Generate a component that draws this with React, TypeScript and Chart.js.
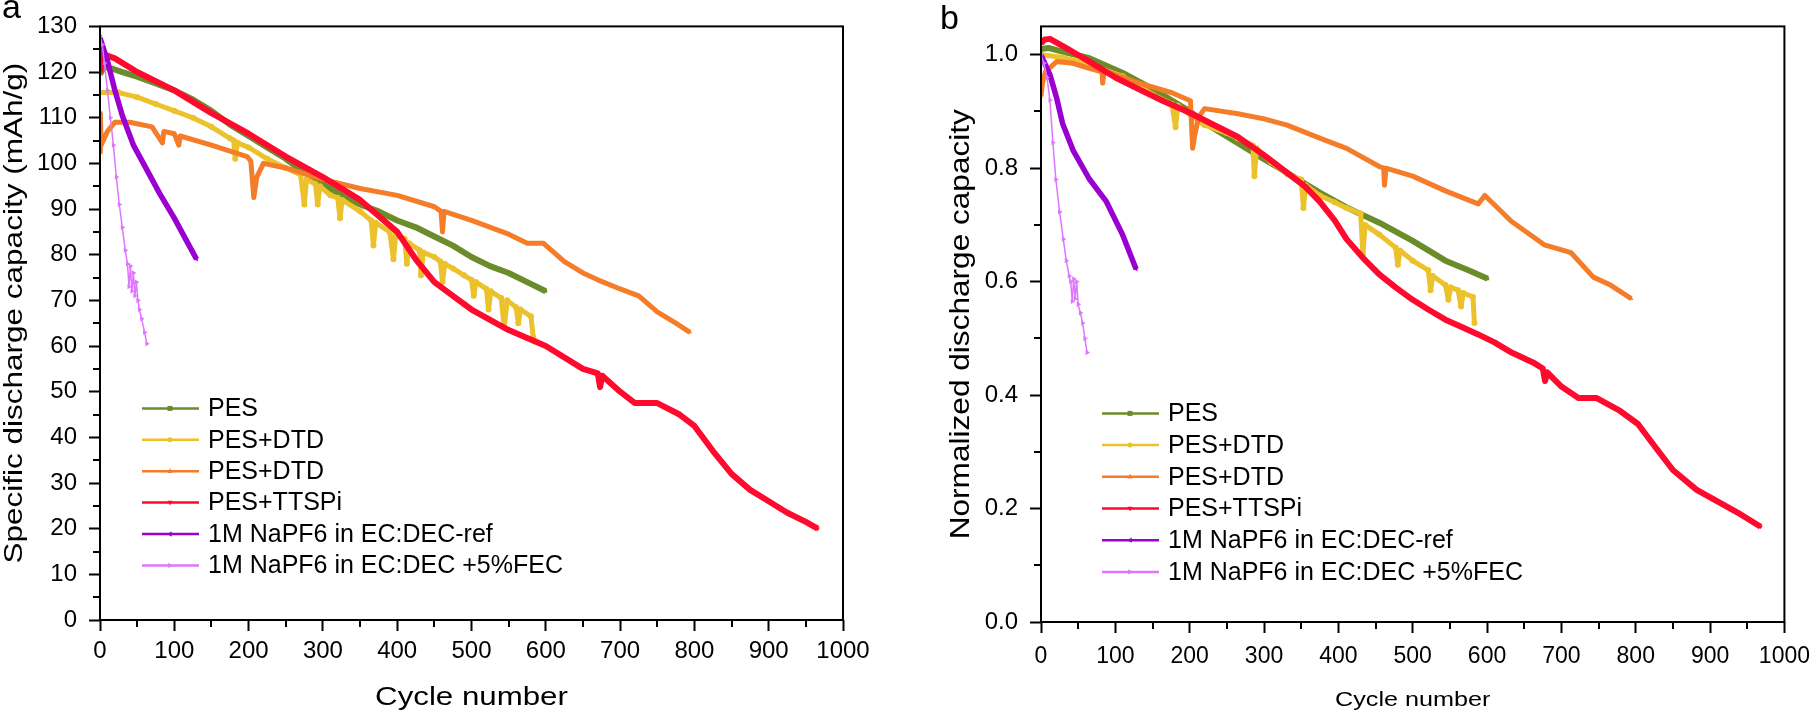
import React, { useEffect, useRef } from "react";
import { Chart, registerables } from "chart.js";
Chart.register(...registerables);

const FONT = '"Liberation Sans", Arial, Helvetica, sans-serif';
Chart.defaults.font.family = FONT;

// legend / series look
const seriesNames = ["PES", "PES+DTD", "PES+DTD", "PES+TTSPi", "1M NaPF6 in EC:DEC-ref", "1M NaPF6 in EC:DEC +5%FEC"];
const seriesColors = ["#6B8C2A", "#EBC22B", "#F57C28", "#FF0A2E", "#9A00D0", "#DE76FF"];
const markerStyles = ["rect", "circle", "triangle", "triangle", "triangle", "triangle"];
const markerRot = [0, 0, 0, 180, -90, 90];
const lineWidths = [6, 5, 5, 6, 5.5, 1.5];
const pointSizes = [2, 3, 2.5, 2.5, 2.5, 3];

// tick labels
const xTicks = [0, 100, 200, 300, 400, 500, 600, 700, 800, 900, 1000];
const yTicksA = [0, 10, 20, 30, 40, 50, 60, 70, 80, 90, 100, 110, 120, 130];
const yTicksB = [0, 0.2, 0.4, 0.6, 0.8, 1.0];

// panel a: specific discharge capacity (mAh/g)
const pesCycA = [0, 5, 12, 30, 50, 75, 100, 125, 150, 175, 200, 225, 250, 275, 300, 325, 350, 375, 400, 425, 450, 475, 500, 525, 550, 575, 600];
const pesCapA = [119.5, 121, 121, 120, 119, 117.5, 116, 114, 111.5, 108.5, 106, 103.5, 101, 98, 95.5, 93, 91, 89.5, 87.5, 86, 84, 82, 79.5, 77.5, 76, 74, 72];

const dtdYCycA = [0, 10, 25, 50, 75, 100, 125, 150, 175, 180, 182, 185, 200, 225, 250, 270, 275, 278, 290, 293, 296, 310, 320, 323, 326, 350, 365, 368, 371, 390, 395, 398, 410, 413, 416, 430, 432, 435, 450, 458, 461, 464, 475, 490, 500, 503, 506, 520, 523, 526, 540, 544, 548, 560, 563, 566, 580, 583, 585];
const dtdYCapA = [115.5, 115.5, 115.5, 114.5, 113, 111.5, 110, 108, 105.5, 105, 101, 104.5, 103.5, 101, 99, 97.5, 91, 96.5, 95.5, 91, 95, 93, 92.5, 88, 92, 89.5, 87.5, 82, 87, 85, 79, 84.5, 83.5, 78, 82.5, 81, 75.5, 80.5, 79.5, 78.5, 74, 78, 77, 75.5, 74.5, 71, 74, 72.5, 68, 72, 70.5, 64, 70, 68.5, 65, 68, 66.5, 62, 61];

const dtdOCycA = [0, 0.5, 1.5, 10, 20, 40, 70, 84, 86, 100, 106, 108, 150, 198, 203, 207, 211, 220, 250, 300, 350, 400, 450, 459, 461, 463, 500, 550, 575, 597, 625, 650, 670, 700, 725, 750, 775, 794];
const dtdOCapA = [102.5, 111, 104, 107, 109, 109, 108, 104.5, 107, 106.5, 104, 106, 104, 101.5, 100.5, 92.5, 97, 100, 99, 96.5, 94.5, 93, 90.5, 89.5, 85, 89.5, 87.5, 84.5, 82.5, 82.5, 78.5, 76, 74.5, 72.5, 71, 67.5, 65, 63];

const ttspiCycA = [0, 3, 20, 50, 100, 150, 200, 250, 300, 350, 400, 425, 450, 475, 500, 550, 600, 650, 670, 673, 676, 700, 720, 750, 780, 800, 825, 850, 875, 900, 925, 950, 966];
const ttspiCapA = [120, 124, 123, 120, 116, 111, 106.5, 101.5, 97, 92, 85, 79, 74, 71, 68, 63.5, 60, 55, 54, 51, 53.5, 50, 47.5, 47.5, 45, 42.5, 37, 32, 28.5, 26, 23.5, 21.5, 20];

const refCycA = [0, 5, 10, 20, 30, 45, 60, 80, 100, 120, 130];
const refCapA = [127.5, 125, 122.5, 116, 110.5, 104, 99.5, 93.5, 88, 82, 79];

const fecCycA = [0, 3, 6, 10, 14, 18, 22, 26, 30, 34, 37, 39, 41, 43, 45, 47, 49, 51, 53, 56, 60, 63];
const fecCapA = [128, 126, 122, 116, 110, 104, 97, 91, 86, 81, 78, 73, 77.5, 72, 76, 71, 74, 70, 68, 66, 63, 60.5];

// panel b: normalized discharge capacity
const pesCycB = [0, 10, 30, 65, 110, 150, 198, 230, 265, 300, 331, 375, 411, 455, 500, 544, 575, 601];
const pesNormB = [1.01, 1.012, 1.005, 0.994, 0.968, 0.94, 0.902, 0.872, 0.844, 0.816, 0.792, 0.757, 0.731, 0.704, 0.672, 0.637, 0.62, 0.605];

const dtdYCycB = [0, 30, 60, 110, 150, 176, 181, 184, 220, 250, 265, 285, 287, 290, 310, 331, 350, 353, 356, 375, 395, 411, 430, 433, 436, 455, 477, 480, 483, 500, 521, 524, 527, 544, 548, 551, 561, 565, 568, 581, 583];
const dtdYNormB = [1.0, 0.995, 0.985, 0.962, 0.93, 0.913, 0.872, 0.91, 0.876, 0.862, 0.853, 0.84, 0.786, 0.835, 0.81, 0.79, 0.78, 0.73, 0.77, 0.752, 0.74, 0.73, 0.72, 0.648, 0.7, 0.683, 0.66, 0.63, 0.655, 0.637, 0.62, 0.585, 0.61, 0.594, 0.568, 0.59, 0.585, 0.556, 0.58, 0.573, 0.527];

const dtdOCycB = [0, 2, 6, 21, 43, 65, 82, 83, 85, 110, 132, 176, 201, 204, 207, 212, 220, 265, 300, 331, 375, 411, 455, 461, 462, 464, 500, 544, 588, 597, 633, 677, 713, 743, 766, 794];
const dtdONormB = [0.927, 0.95, 0.97, 0.988, 0.985, 0.976, 0.97, 0.95, 0.972, 0.96, 0.95, 0.933, 0.919, 0.835, 0.86, 0.89, 0.905, 0.896, 0.887, 0.876, 0.853, 0.835, 0.803, 0.8, 0.77, 0.8, 0.786, 0.76, 0.737, 0.752, 0.706, 0.665, 0.651, 0.608, 0.594, 0.57];

const ttspiCycB = [0, 5, 12, 30, 65, 100, 132, 165, 198, 230, 265, 300, 331, 355, 375, 395, 411, 433, 455, 477, 500, 522, 544, 566, 588, 610, 633, 664, 675, 678, 681, 700, 723, 747, 779, 803, 826, 850, 882, 905, 937, 968];
const ttspiNormB = [1.02, 1.027, 1.028, 1.015, 0.988, 0.96, 0.939, 0.918, 0.899, 0.878, 0.855, 0.823, 0.792, 0.768, 0.741, 0.708, 0.675, 0.642, 0.613, 0.59, 0.568, 0.55, 0.533, 0.52, 0.507, 0.493, 0.475, 0.456, 0.447, 0.425, 0.44, 0.415, 0.395, 0.395, 0.372, 0.349, 0.309, 0.268, 0.233, 0.216, 0.193, 0.168];

const refCycB = [0, 5, 12, 21, 29, 43, 65, 88, 110, 128];
const refNormB = [1.0, 0.985, 0.965, 0.924, 0.879, 0.832, 0.781, 0.741, 0.682, 0.622];

const fecCycB = [0, 4, 8, 12, 16, 20, 25, 30, 34, 38, 40, 42, 44, 46, 48, 50, 53, 56, 59, 62];
const fecNormB = [1.0, 0.985, 0.96, 0.92, 0.845, 0.78, 0.723, 0.675, 0.637, 0.61, 0.6, 0.565, 0.605, 0.57, 0.6, 0.56, 0.545, 0.527, 0.5, 0.475];

function drawMarker(ctx, style, rot, x, y, r) {
    ctx.save()
    ctx.translate(x, y)
    ctx.rotate(rot * Math.PI / 180)
    ctx.beginPath()
    if (style === "rect") ctx.rect(-r, -r, 2 * r, 2 * r)
    else if (style === "circle") ctx.arc(0, 0, r, 0, Math.PI * 2)
    else {
        ctx.moveTo(0, -r * 1.2)
        ctx.lineTo(r * 1.05, r * 0.7)
        ctx.lineTo(-r * 1.05, r * 0.7)
        ctx.closePath()
    }
    ctx.fill()
    ctx.restore()
}

// titles in the picture are wider than plain Arial, so stretch along the text
function stretchText(ctx, text, x, y, rot, size, sx) {
    ctx.save()
    ctx.translate(x, y)
    ctx.rotate(rot)
    ctx.scale(sx, 1)
    ctx.font = `${size}px ${FONT}`
    ctx.fillStyle = "#000"
    ctx.textAlign = "center"
    ctx.textBaseline = "middle"
    ctx.fillText(text, 0, 0)
    ctx.restore()
}

const makeDecor = (p) => ({
    id: "decor",
    afterDraw(chart) {
        const { ctx, chartArea: a } = chart
        const xs = chart.scales.x, ys = chart.scales.y
        ctx.save()
        ctx.strokeStyle = "#000"
        ctx.lineWidth = 2
        ctx.strokeRect(a.left, a.top, a.right - a.left, a.bottom - a.top)

        // minor ticks
        ctx.beginPath()
        for (let v = p.minorX; v < xs.max; v += 2 * p.minorX) {
            const px = Math.round(xs.getPixelForValue(v))
            ctx.moveTo(px, a.bottom)
            ctx.lineTo(px, a.bottom + 7)
        }
        for (let v = p.minorY; v < ys.max; v += 2 * p.minorY) {
            const py = Math.round(ys.getPixelForValue(v))
            ctx.moveTo(a.left, py)
            ctx.lineTo(a.left - 7, py)
        }
        ctx.stroke()

        // legend inside the plot
        const lx = a.left + p.legendX
        seriesNames.forEach((name, i) => {
            const ly = a.top + p.legendY + i * p.legendGap
            ctx.strokeStyle = seriesColors[i]
            ctx.fillStyle = seriesColors[i]
            ctx.lineWidth = 2.5
            ctx.beginPath()
            ctx.moveTo(lx, ly)
            ctx.lineTo(lx + 57, ly)
            ctx.stroke()
            drawMarker(ctx, markerStyles[i], markerRot[i], lx + 28, ly, 2.5)
            ctx.fillStyle = "#000"
            ctx.font = `25px ${FONT}`
            ctx.textAlign = "left"
            ctx.textBaseline = "middle"
            ctx.fillText(name, lx + 66, ly + 1)
        })

        const cx = (a.left + a.right) / 2
        const cy = (a.top + a.bottom) / 2
        stretchText(ctx, p.yTitle, p.yTitleX, cy + p.yTitleDy, -Math.PI / 2, p.yTitleSize, p.yTitleSx)
        stretchText(ctx, "Cycle number", cx, p.xTitleY, 0, p.xTitleSize, p.xTitleSx)

        ctx.fillStyle = "#000"
        ctx.font = `34px ${FONT}`
        ctx.textAlign = "left"
        ctx.textBaseline = "alphabetic"
        ctx.fillText(p.letter, p.letterX, p.letterY)
        ctx.restore()
    }
})

const buildConfig = (p) => {
    const datasets = p.cycles.map((cyc, i) => ({
        label: seriesNames[i],
        data: cyc.map((c, j) => ({ x: c, y: p.values[i][j] })),
        borderColor: seriesColors[i],
        backgroundColor: seriesColors[i],
        borderWidth: lineWidths[i],
        borderJoinStyle: "round",
        pointStyle: markerStyles[i],
        rotation: markerRot[i],
        pointRadius: pointSizes[i],
        pointBorderWidth: 0,
        pointHoverRadius: 0,
        tension: 0,
        order: 5 - i,
    }))
    const grid = { display: true, drawOnChartArea: false, drawTicks: true, tickLength: 11, tickColor: "#000", tickWidth: 2 }
    return {
        type: "line",
        data: { datasets },
        plugins: [makeDecor(p)],
        options: {
            animation: false,
            responsive: true,
            maintainAspectRatio: false,
            events: [],
            layout: { padding: { left: 0, right: p.padRight, top: p.padTop, bottom: 0 } },
            scales: {
                x: {
                    type: "linear", min: 0, max: 1000,
                    afterFit: (s) => { s.height = p.xAxisH },
                    afterBuildTicks: (s) => { s.ticks = xTicks.map((value) => ({ value })) },
                    ticks: { color: "#000", font: { size: p.xTickSize }, padding: p.xPad, maxRotation: 0, autoSkip: false, callback: (v) => String(v) },
                    grid,
                    border: { display: false },
                },
                y: {
                    type: "linear", min: 0, max: p.yMax,
                    afterFit: (s) => { s.width = p.yAxisW },
                    afterBuildTicks: (s) => { s.ticks = p.yTicks.map((value) => ({ value })) },
                    ticks: { color: "#000", font: { size: p.yTickSize }, padding: 12, callback: p.yFmt },
                    grid,
                    border: { display: false },
                },
            },
            plugins: { legend: { display: false }, tooltip: { enabled: false } },
        },
    }
}

const panelA = {
    left: 0, width: 900, padRight: 57, padTop: 19, xAxisH: 95, yAxisW: 100, yMax: 130,
    yTicks: yTicksA, yFmt: (v) => String(v), xTickSize: 24, yTickSize: 24, xPad: 6,
    cycles: [pesCycA, dtdYCycA, dtdOCycA, ttspiCycA, refCycA, fecCycA],
    values: [pesCapA, dtdYCapA, dtdOCapA, ttspiCapA, refCapA, fecCapA],
    minorX: 50, minorY: 5, legendX: 42, legendY: 382, legendGap: 31.4,
    yTitle: "Specific discharge capacity (mAh/g)", yTitleX: 15, yTitleDy: -10, yTitleSize: 25, yTitleSx: 1.26,
    xTitleY: 698, xTitleSize: 25, xTitleSx: 1.25,
    letter: "a", letterX: 2, letterY: 18,
}

const panelB = {
    left: 900, width: 920, padRight: 27, padTop: 14, xAxisH: 93, yAxisW: 141, yMax: 1.05,
    yTicks: yTicksB, yFmt: (v) => Number(v).toFixed(1), xTickSize: 23, yTickSize: 24, xPad: 10,
    cycles: [pesCycB, dtdYCycB, dtdOCycB, ttspiCycB, refCycB, fecCycB],
    values: [pesNormB, dtdYNormB, dtdONormB, ttspiNormB, refNormB, fecNormB],
    minorX: 50, minorY: 0.1, legendX: 61, legendY: 387, legendGap: 31.7,
    yTitle: "Normalized discharge capacity", yTitleX: 62, yTitleDy: 0, yTitleSize: 27, yTitleSx: 1.17,
    xTitleY: 700, xTitleSize: 21, xTitleSx: 1.2,
    letter: "b", letterX: 40, letterY: 29,
}

const Panel = ({ spec }) => {
    const ref = useRef(null)

    useEffect(() => {
        const chart = new Chart(ref.current, buildConfig(spec))
        return () => { chart.destroy() }
    }, [])

    return (
        <div style={{ position: "absolute", left: spec.left, top: 0, width: spec.width, height: 715 }}>
            <canvas ref={ref}></canvas>
        </div>
    )
}

export default function App() {
    return (
        <div style={{ position: "absolute", left: 0, top: 0, width: 1820, height: 715, background: "#fff" }}>
            <Panel spec={panelA} />
            <Panel spec={panelB} />
        </div>
    )
}
